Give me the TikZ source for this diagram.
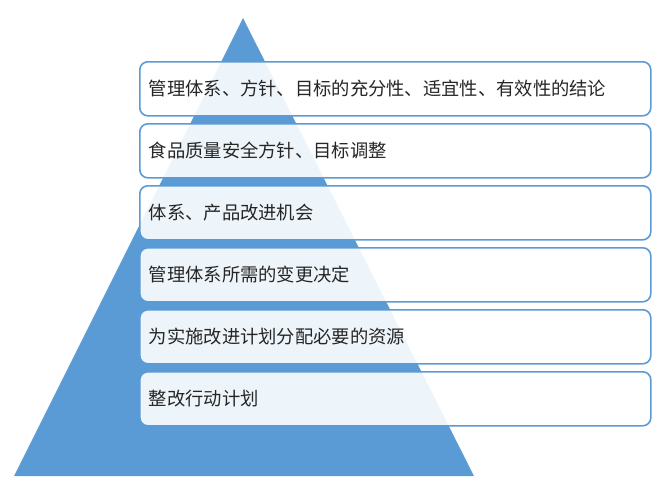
\documentclass[tikz,border=0pt]{standalone}
\usepackage{fontspec}
\setmainfont{Noto Sans CJK SC}
\usetikzlibrary{positioning}

\definecolor{pyrblue}{HTML}{5B9BD5}

\tikzset{
  item/.style={draw=pyrblue, line width=1.6pt, fill=white, fill opacity=0.9,
    text opacity=1, rounded corners=8pt, minimum width=511pt, minimum height=54pt,
    text width=493pt, inner xsep=9pt, align=left, anchor=north west,
    font=\fontsize{18.3}{20}\selectfont, text=black!85}
}

\begin{document}
\begin{tikzpicture}[x=1pt, y=-1pt]
        % the page
        \useasboundingbox (0,0) rectangle (670,485);

        % the pyramid behind everything
        \fill[pyrblue] (243,18) -- (474,476) -- (14,476) -- cycle;

        % the six boxes, one below the other
        \node[item] (conclusion) at (139,61)  {管理体系、方针、目标的充分性、适宜性、有效性的结论};
        \node[item] (policy)     at (139,123) {食品质量安全方针、目标调整};
        \node[item] (improve)    at (139,185) {体系、产品改进机会};
        \node[item] (change)     at (139,247) {管理体系所需的变更决定};
        \node[item] (resource)   at (139,309) {为实施改进计划分配必要的资源};
        \node[item] (action)     at (139,371) {整改行动计划};
      \end{tikzpicture}
\end{document}
